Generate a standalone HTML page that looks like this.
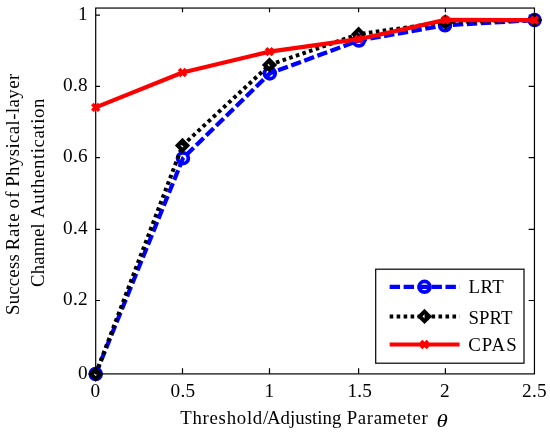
<!DOCTYPE html>
<html><head><meta charset="utf-8"><title>Chart</title><style>html,body{margin:0;padding:0;background:#fff}svg{display:block}text{font-family:"Liberation Serif","Times New Roman",serif;font-size:18.8px;fill:#000}.t{font-size:19.3px}</style></head><body>
<svg xmlns="http://www.w3.org/2000/svg" width="550" height="433" viewBox="0 0 550 433">
<rect width="550" height="433" fill="#fff"/>
<rect x="95.7" y="8.05" width="438.75" height="365.85" fill="none" stroke="#000" stroke-width="1.2"/>
<path d="M182.5 373.9v-5.7M182.5 8.05v4.2M269.5 373.9v-5.7M269.5 8.05v4.2M358.6 373.9v-5.7M358.6 8.05v4.2M445.4 373.9v-5.7M445.4 8.05v4.2M95.7 300.5h4.3M534.45 300.5h-5.8M95.7 229.4h4.3M534.45 229.4h-5.8M95.7 157.6h4.3M534.45 157.6h-5.8M95.7 86.4h4.3M534.45 86.4h-5.8M95.7 15.2h4.3M534.45 15.2h-5.8" stroke="#000" stroke-width="1.2" fill="none"/>
<text x="95.4" y="396.6" text-anchor="middle" class="t">0</text>
<text x="182.9" y="396.6" text-anchor="middle" class="t" textLength="24.6">0.5</text>
<text x="269.3" y="396.6" text-anchor="middle" class="t">1</text>
<text x="359.7" y="396.6" text-anchor="middle" class="t" textLength="24.6">1.5</text>
<text x="444.8" y="396.6" text-anchor="middle" class="t">2</text>
<text x="534.3" y="396.6" text-anchor="middle" class="t" textLength="24.6">2.5</text>
<text x="87.7" y="378.7" text-anchor="end" class="t">0</text>
<text x="87.7" y="305.3" text-anchor="end" class="t" textLength="24.6">0.2</text>
<text x="87.7" y="234.2" text-anchor="end" class="t" textLength="24.6">0.4</text>
<text x="87.7" y="162.4" text-anchor="end" class="t" textLength="24.6">0.6</text>
<text x="87.7" y="91.2" text-anchor="end" class="t" textLength="24.6">0.8</text>
<text x="87.7" y="20.1" text-anchor="end" class="t">1</text>
<text x="180.2" y="423.6" textLength="88">Threshold/</text>
<text x="267" y="423.6" textLength="74.3">Adjusting</text>
<text x="346.8" y="423.6" textLength="81">Parameter</text>
<text transform="translate(436.5 426.7) scale(1.22 0.945)" font-style="italic" font-size="19.3">θ</text>
<g transform="rotate(-90)">
<text x="-314.9" y="18.8" textLength="60.6">Success</text>
<text x="-250.2" y="18.8" textLength="36.8">Rate</text>
<text x="-208.6" y="18.8" textLength="17">of</text>
<text x="-186.8" y="18.8" textLength="113">Physical-layer</text>
<text x="-286.9" y="43.9" textLength="63.6">Channel</text>
<text x="-217.9" y="43.9" textLength="119.2">Authentication</text>
</g>
<polyline points="95.7,374.0 183.0,158.2 269.8,73.4 358.9,40.5 445.0,25.3 534.6,20.1" fill="none" stroke="#00f" stroke-width="4.2" stroke-dasharray="10.4 3.56"/>
<circle cx="95.7" cy="374.0" r="5.35" fill="none" stroke="#00f" stroke-width="3.8"/>
<circle cx="183.0" cy="158.2" r="5.35" fill="none" stroke="#00f" stroke-width="3.8"/>
<circle cx="269.8" cy="73.4" r="5.35" fill="none" stroke="#00f" stroke-width="3.8"/>
<circle cx="358.9" cy="40.5" r="5.35" fill="none" stroke="#00f" stroke-width="3.8"/>
<circle cx="445.0" cy="25.3" r="5.35" fill="none" stroke="#00f" stroke-width="3.8"/>
<circle cx="534.6" cy="20.1" r="5.35" fill="none" stroke="#00f" stroke-width="3.8"/>
<polyline points="95.7,374.0 182.5,145.5 269.5,64.9 358.6,34.2 445.4,22.0 534.5,20.1" fill="none" stroke="#000" stroke-width="4" stroke-dasharray="3.6 3.38"/>
<path d="M95.7 369.2l4.8 4.8l-4.8 4.8l-4.8 -4.8z" fill="none" stroke="#000" stroke-width="4" stroke-linejoin="miter"/>
<path d="M182.5 140.7l4.8 4.8l-4.8 4.8l-4.8 -4.8z" fill="none" stroke="#000" stroke-width="4" stroke-linejoin="miter"/>
<path d="M269.5 60.1l4.8 4.8l-4.8 4.8l-4.8 -4.8z" fill="none" stroke="#000" stroke-width="4" stroke-linejoin="miter"/>
<path d="M358.6 29.4l4.8 4.8l-4.8 4.8l-4.8 -4.8z" fill="none" stroke="#000" stroke-width="4" stroke-linejoin="miter"/>
<path d="M445.4 17.2l4.8 4.8l-4.8 4.8l-4.8 -4.8z" fill="none" stroke="#000" stroke-width="4" stroke-linejoin="miter"/>
<path d="M534.5 15.3l4.8 4.8l-4.8 4.8l-4.8 -4.8z" fill="none" stroke="#000" stroke-width="4" stroke-linejoin="miter"/>
<polyline points="95.7,107.4 182.5,72.5 269.5,51.6 358.6,39.2 445.4,19.9 534.5,20.1" fill="none" stroke="#f00" stroke-width="4.2" stroke-linejoin="round"/>
<path d="M92.3 104.0l6.8 6.8M92.3 110.8l6.8 -6.8" fill="none" stroke="#f00" stroke-width="3.6"/>
<path d="M179.1 69.1l6.8 6.8M179.1 75.9l6.8 -6.8" fill="none" stroke="#f00" stroke-width="3.6"/>
<path d="M266.1 48.2l6.8 6.8M266.1 55.0l6.8 -6.8" fill="none" stroke="#f00" stroke-width="3.6"/>
<path d="M355.2 35.8l6.8 6.8M355.2 42.6l6.8 -6.8" fill="none" stroke="#f00" stroke-width="3.6"/>
<path d="M442.0 16.5l6.8 6.8M442.0 23.3l6.8 -6.8" fill="none" stroke="#f00" stroke-width="3.6"/>
<path d="M531.1 16.7l6.8 6.8M531.1 23.5l6.8 -6.8" fill="none" stroke="#f00" stroke-width="3.6"/>
<rect x="375.7" y="269.2" width="148.3" height="94" fill="#fff" stroke="#000" stroke-width="1.2"/>
<path d="M389.65 286.8H459.6" stroke="#00f" stroke-width="4.2" stroke-dasharray="10.4 3.56" fill="none"/>
<circle cx="424.5" cy="286.8" r="5.35" fill="none" stroke="#00f" stroke-width="3.8"/>
<path d="M389.65 316.4H459.6" stroke="#000" stroke-width="4" stroke-dasharray="3.6 3.38" fill="none"/>
<path d="M424.5 311.6l4.8 4.8l-4.8 4.8l-4.8 -4.8z" fill="none" stroke="#000" stroke-width="4" stroke-linejoin="miter"/>
<path d="M389.65 344.5H459.6" stroke="#f00" stroke-width="4.2" fill="none"/>
<path d="M421.1 341.1l6.8 6.8M421.1 347.9l6.8 -6.8" fill="none" stroke="#f00" stroke-width="3.6"/>
<text x="468.6" y="293.4" textLength="35.2">LRT</text>
<text x="468.6" y="323.5" textLength="43.8">SPRT</text>
<text x="468.3" y="351.2" textLength="48.3">CPAS</text>
</svg></body></html>
